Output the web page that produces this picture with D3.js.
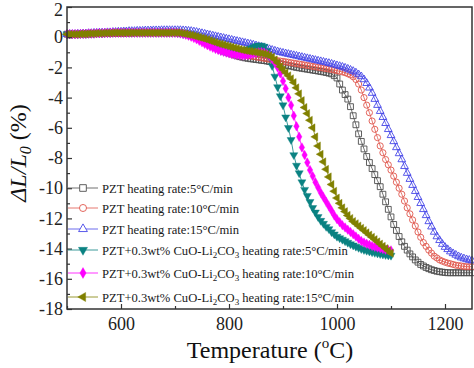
<!DOCTYPE html>
<html>
<head>
<meta charset="utf-8">
<script src="https://cdn.jsdelivr.net/npm/d3@7"></script>
<style>
  body { margin: 0; background: #fff; }
  svg { display: block; }
  svg text { font-family: "Liberation Serif", "Times New Roman", serif; }
</style>
</head>
<body>
<div id="chart"></div>
<script>
/* DATA */
// readings every 5 °C: PZT 500..1250, doped 500..1100
const tempsPZT = d3.range(500, 1251, 5);
const tempsDoped = d3.range(500, 1101, 5);

const pzt5 = [
  0.2,0.2,0.2,0.2,0.2,0.22,0.22,0.22,0.22,0.22,
  0.25,0.25,0.25,0.25,0.25,0.25,0.25,0.25,0.25,0.25,
  0.25,0.25,0.28,0.28,0.28,0.3,0.3,0.3,0.3,0.3,
  0.3,0.3,0.3,0.3,0.3,0.3,0.3,0.3,0.3,0.3,
  0.3,0.3,0.28,0.25,0.22,0.18,0.12,0.05,-0.02,-0.1,
  -0.18,-0.27,-0.36,-0.45,-0.55,-0.64,-0.73,-0.82,-0.9,-0.98,
  -1.05,-1.12,-1.18,-1.24,-1.29,-1.33,-1.37,-1.4,-1.43,-1.45,
  -1.48,-1.5,-1.53,-1.55,-1.58,-1.61,-1.64,-1.68,-1.72,-1.76,
  -1.8,-1.84,-1.88,-1.92,-1.96,-2.0,-2.03,-2.06,-2.09,-2.12,
  -2.15,-2.18,-2.21,-2.24,-2.27,-2.3,-2.34,-2.38,-2.43,-2.55,
  -2.7,-3.1,-3.5,-3.8,-4.1,-4.6,-5.2,-5.8,-6.4,-6.9,
  -7.4,-7.9,-8.3,-8.7,-9.1,-9.5,-9.9,-10.4,-10.9,-11.4,
  -11.9,-12.4,-12.8,-13.2,-13.55,-13.85,-14.1,-14.35,-14.55,-14.75,
  -14.9,-15.05,-15.15,-15.25,-15.33,-15.4,-15.45,-15.5,-15.53,-15.56,
  -15.58,-15.6,-15.6,-15.6,-15.6,-15.6,-15.6,-15.6,-15.6,-15.6,
  -15.6];

const pzt10 = [
  0.2,0.2,0.2,0.2,0.2,0.22,0.22,0.22,0.22,0.22,
  0.25,0.25,0.25,0.25,0.25,0.25,0.25,0.25,0.25,0.25,
  0.25,0.25,0.28,0.28,0.28,0.3,0.3,0.3,0.3,0.3,
  0.3,0.3,0.3,0.3,0.3,0.3,0.3,0.3,0.3,0.3,
  0.3,0.3,0.28,0.26,0.23,0.2,0.15,0.1,0.04,-0.03,
  -0.1,-0.17,-0.25,-0.33,-0.41,-0.49,-0.57,-0.65,-0.72,-0.79,
  -0.86,-0.92,-0.98,-1.03,-1.08,-1.12,-1.16,-1.2,-1.24,-1.28,
  -1.31,-1.34,-1.37,-1.4,-1.43,-1.46,-1.49,-1.52,-1.55,-1.58,
  -1.6,-1.63,-1.66,-1.69,-1.72,-1.75,-1.78,-1.81,-1.84,-1.87,
  -1.9,-1.93,-1.96,-1.99,-2.02,-2.05,-2.08,-2.11,-2.14,-2.18,
  -2.22,-2.26,-2.3,-2.35,-2.42,-2.5,-2.62,-2.8,-3.1,-3.5,
  -4.0,-4.5,-5.0,-5.55,-6.1,-6.65,-7.2,-7.65,-8.1,-8.45,
  -8.8,-9.2,-9.6,-10.0,-10.4,-10.85,-11.3,-11.7,-12.1,-12.5,
  -12.9,-13.25,-13.6,-13.85,-14.1,-14.3,-14.5,-14.62,-14.75,-14.83,
  -14.9,-14.96,-15.0,-15.05,-15.1,-15.12,-15.15,-15.18,-15.2,-15.2,
  -15.2];

const pzt15 = [
  0.2,0.2,0.2,0.2,0.22,0.22,0.24,0.24,0.26,0.26,
  0.28,0.28,0.3,0.3,0.3,0.32,0.32,0.34,0.34,0.36,
  0.36,0.38,0.38,0.4,0.4,0.4,0.42,0.42,0.42,0.44,
  0.44,0.44,0.45,0.45,0.45,0.46,0.46,0.46,0.46,0.46,
  0.46,0.46,0.46,0.45,0.44,0.42,0.4,0.37,0.34,0.3,
  0.26,0.22,0.18,0.14,0.1,0.06,0.02,-0.02,-0.06,-0.1,
  -0.14,-0.18,-0.22,-0.26,-0.3,-0.34,-0.38,-0.42,-0.46,-0.5,
  -0.55,-0.6,-0.65,-0.7,-0.75,-0.8,-0.85,-0.9,-0.95,-1.0,
  -1.04,-1.08,-1.12,-1.16,-1.2,-1.24,-1.28,-1.32,-1.36,-1.4,
  -1.44,-1.48,-1.52,-1.56,-1.6,-1.64,-1.68,-1.72,-1.77,-1.82,
  -1.87,-1.92,-1.97,-2.03,-2.1,-2.17,-2.25,-2.35,-2.47,-2.6,
  -2.8,-3.05,-3.35,-3.7,-4.1,-4.5,-4.9,-5.3,-5.7,-6.1,
  -6.5,-6.9,-7.3,-7.7,-8.1,-8.55,-9.0,-9.4,-9.8,-10.2,
  -10.6,-11.0,-11.4,-11.8,-12.2,-12.55,-12.9,-13.2,-13.45,-13.7,
  -13.9,-14.05,-14.2,-14.32,-14.42,-14.52,-14.6,-14.66,-14.72,-14.76,
  -14.8];

const doped5 = [
  0.2,0.2,0.2,0.2,0.2,0.22,0.22,0.22,0.24,0.24,
  0.24,0.26,0.26,0.26,0.28,0.28,0.28,0.3,0.3,0.3,
  0.3,0.3,0.3,0.3,0.3,0.3,0.3,0.3,0.3,0.3,
  0.3,0.3,0.3,0.3,0.3,0.3,0.3,0.3,0.3,0.3,
  0.3,0.28,0.25,0.22,0.2,0.15,0.1,0.05,0.0,-0.08,
  -0.17,-0.26,-0.35,-0.46,-0.57,-0.68,-0.8,-0.88,-0.94,-0.98,
  -1.0,-1.0,-0.99,-0.97,-0.95,-0.91,-0.86,-0.8,-0.73,-0.65,
  -0.58,-0.54,-0.55,-0.62,-0.9,-1.3,-1.9,-2.6,-3.3,-3.9,
  -4.5,-5.3,-6.0,-6.8,-7.8,-8.5,-9.0,-9.6,-10.1,-10.5,
  -10.9,-11.3,-11.6,-11.9,-12.15,-12.35,-12.55,-12.7,-12.9,-13.05,
  -13.2,-13.3,-13.4,-13.5,-13.6,-13.7,-13.78,-13.86,-13.94,-14.02,
  -14.08,-14.13,-14.18,-14.23,-14.27,-14.31,-14.35,-14.38,-14.41,-14.44,
  -14.46];

const doped10 = [
  0.2,0.2,0.2,0.2,0.2,0.22,0.22,0.22,0.24,0.24,
  0.24,0.26,0.26,0.26,0.28,0.28,0.28,0.3,0.3,0.3,
  0.3,0.3,0.3,0.3,0.3,0.3,0.3,0.3,0.3,0.3,
  0.3,0.3,0.3,0.3,0.3,0.3,0.3,0.3,0.3,0.3,
  0.3,0.28,0.25,0.21,0.16,0.1,0.03,-0.05,-0.14,-0.24,
  -0.34,-0.44,-0.53,-0.62,-0.7,-0.78,-0.85,-0.91,-0.97,-1.02,
  -1.07,-1.11,-1.15,-1.18,-1.2,-1.21,-1.2,-1.18,-1.14,-1.09,
  -1.04,-1.0,-0.99,-1.02,-1.1,-1.25,-1.45,-1.7,-2.0,-2.4,
  -2.9,-3.4,-4.0,-4.5,-5.2,-5.9,-6.6,-7.3,-7.8,-8.3,
  -8.8,-9.2,-9.6,-9.95,-10.3,-10.6,-10.9,-11.2,-11.5,-11.8,
  -12.05,-12.25,-12.45,-12.6,-12.75,-12.9,-13.05,-13.2,-13.35,-13.5,
  -13.6,-13.68,-13.75,-13.82,-13.88,-13.93,-13.98,-14.03,-14.07,-14.1,
  -14.12];

const doped15 = [
  0.2,0.2,0.2,0.2,0.2,0.22,0.22,0.22,0.24,0.24,
  0.24,0.26,0.26,0.26,0.28,0.28,0.28,0.3,0.3,0.3,
  0.3,0.3,0.3,0.3,0.3,0.3,0.3,0.3,0.3,0.3,
  0.3,0.3,0.3,0.3,0.3,0.3,0.3,0.3,0.3,0.3,
  0.3,0.3,0.28,0.25,0.22,0.18,0.14,0.1,0.05,0.0,
  -0.05,-0.1,-0.16,-0.22,-0.28,-0.34,-0.4,-0.45,-0.5,-0.55,
  -0.6,-0.65,-0.7,-0.75,-0.8,-0.84,-0.88,-0.91,-0.94,-0.97,
  -1.0,-1.03,-1.06,-1.1,-1.15,-1.22,-1.32,-1.5,-1.7,-1.95,
  -2.15,-2.35,-2.55,-2.75,-3.0,-3.35,-3.75,-4.2,-4.65,-5.05,
  -5.5,-6.0,-6.6,-7.2,-7.75,-8.25,-8.75,-9.25,-9.75,-10.2,
  -10.65,-11.0,-11.3,-11.55,-11.8,-12.0,-12.2,-12.35,-12.5,-12.65,
  -12.8,-12.95,-13.1,-13.25,-13.4,-13.55,-13.7,-13.85,-14.0,-14.15,
  -14.3];

const rates = ["5", "10", "15"];
const xTicks = [600, 800, 1000, 1200];
const xMinorTicks = [500, 700, 900, 1100];
const yTicks = [2, 0, -2, -4, -6, -8, -10, -12, -14, -16, -18];
const yMinorTicks = [1, -1, -3, -5, -7, -9, -11, -13, -15, -17];

/* SIZES */
const width = 474, height = 368;
const margin = { top: 7, right: 2, bottom: 59, left: 67 };
const serif = "'Liberation Serif', 'Times New Roman', serif";

const series = [
  { temps: tempsPZT, vals: pzt5, color: "#4d4d4d", sym: d3.symbolSquare, size: 34, rot: 0, fill: false, doped: false, rate: rates[0] },
  { temps: tempsPZT, vals: pzt10, color: "#e0564c", sym: d3.symbolCircle, size: 30, rot: 0, fill: false, doped: false, rate: rates[1] },
  { temps: tempsPZT, vals: pzt15, color: "#4646e8", sym: d3.symbolTriangle, size: 26, rot: 0, fill: false, doped: false, rate: rates[2] },
  { temps: tempsDoped, vals: doped5, color: "#0a8282", sym: d3.symbolTriangle, size: 28, rot: 180, fill: true, doped: true, rate: rates[0] },
  { temps: tempsDoped, vals: doped10, color: "#ff00ff", sym: d3.symbolDiamond, size: 26, rot: 0, fill: true, doped: true, rate: rates[1] },
  { temps: tempsDoped, vals: doped15, color: "#808000", sym: d3.symbolTriangle, size: 28, rot: -90, fill: true, doped: true, rate: rates[2] }
];

const svg = d3.select("#chart").append("svg")
  .attr("width", width)
  .attr("height", height);

const x = d3.scaleLinear().domain([500, 1250]).range([margin.left, width - margin.right]);
const y = d3.scaleLinear().domain([-18, 2]).range([height - margin.bottom, margin.top]);

// series
const line = d3.line().x(d => x(d[0])).y(d => y(d[1]));
const plot = svg.append("g");

series.forEach(s => {
  const pts = s.temps.map((t, i) => [t, s.vals[i]]);
  plot.append("path")
    .datum(pts)
    .attr("d", line)
    .attr("fill", "none")
    .attr("stroke", s.color)
    .attr("stroke-width", 0.8);
  plot.selectAll(null)
    .data(pts)
    .join("path")
    .attr("transform", d => `translate(${x(d[0])},${y(d[1])}) rotate(${s.rot})`)
    .attr("d", d3.symbol().type(s.sym).size(s.size))
    .attr("fill", s.fill ? s.color : "none")
    .attr("stroke", s.color)
    .attr("stroke-width", s.fill ? 0.4 : 0.9);
});

// axes (ticks point inward)
const axisColor = "#333";
const yAxis = svg.append("g")
  .attr("transform", `translate(${margin.left},0)`)
  .call(d3.axisLeft(y).tickValues(yTicks).tickSizeInner(-5).tickSizeOuter(0).tickPadding(4).tickFormat(d => String(d)));
const yMinor = svg.append("g")
  .attr("transform", `translate(${margin.left},0)`)
  .call(d3.axisLeft(y).tickValues(yMinorTicks).tickSizeInner(-3).tickSizeOuter(0).tickFormat(""));

const xAxis = svg.append("g")
  .attr("transform", `translate(0,${height - margin.bottom})`)
  .call(d3.axisBottom(x).tickValues(xTicks).tickSizeInner(-5).tickSizeOuter(0).tickPadding(8).tickFormat(d => String(d)));
const xMinor = svg.append("g")
  .attr("transform", `translate(0,${height - margin.bottom})`)
  .call(d3.axisBottom(x).tickValues(xMinorTicks).tickSizeInner(-3).tickSizeOuter(0).tickFormat(""));

[yAxis, yMinor, xAxis, xMinor].forEach(g => {
  g.attr("font-family", null).attr("font-size", null);
  g.select(".domain").remove();
  g.selectAll("line").attr("stroke", axisColor).attr("stroke-width", 1.2);
  g.selectAll("text").attr("fill", "#222").style("font-size", "18px").style("font-family", serif);
});
// the top label sits a little below its tick, as in the original
yAxis.selectAll(".tick").filter(d => d === 2).select("text").attr("dy", "0.45em");

// frame
svg.append("rect")
  .attr("x", margin.left)
  .attr("y", margin.top)
  .attr("width", x(1250) - margin.left)
  .attr("height", y(-18) - margin.top)
  .attr("fill", "none")
  .attr("stroke", axisColor)
  .attr("stroke-width", 1.5);

// axis titles
const xt = svg.append("text")
  .attr("x", 270)
  .attr("y", 358)
  .attr("text-anchor", "middle")
  .style("font-size", "24px")
  .attr("fill", "#111");
xt.append("tspan").text("Temperature (");
xt.append("tspan").style("font-size", "15px").attr("dy", -10).text("o");
xt.append("tspan").attr("dy", 10).text("C)");

const yt = svg.append("text")
  .attr("transform", "translate(26,153) rotate(-90)")
  .attr("text-anchor", "middle")
  .style("font-size", "24px")
  .attr("fill", "#111");
yt.append("tspan").attr("font-style", "italic").text("ΔL/L");
yt.append("tspan").attr("font-style", "italic").style("font-size", "16px").attr("dy", 5).text("0");
yt.append("tspan").attr("dy", -5).text(" (%)");

// legend
const legendY = [188, 208, 229, 250, 273, 297];
const legend = svg.append("g");
series.forEach((s, i) => {
  const g = legend.append("g").attr("transform", `translate(0,${legendY[i]})`);
  g.append("line").attr("x1", 68).attr("x2", 98).attr("stroke", s.color).attr("stroke-width", 0.8);
  g.append("path")
    .attr("transform", `translate(83,0) rotate(${s.rot})`)
    .attr("d", d3.symbol().type(s.sym).size(s.size * 1.3))
    .attr("fill", s.fill ? s.color : "#fff")
    .attr("stroke", s.color)
    .attr("stroke-width", s.fill ? 0.4 : 0.9);
  const t = g.append("text")
    .attr("x", 102)
    .attr("y", 4.5)
    .style("font-size", "12.6px")
    .attr("fill", "#1a1a1a");
  if (!s.doped) {
    t.text(`PZT heating rate:${s.rate}°C/min`);
  } else {
    t.append("tspan").text("PZT+0.3wt% CuO-Li");
    t.append("tspan").style("font-size", "9px").attr("dy", 3).text("2");
    t.append("tspan").attr("dy", -3).text("CO");
    t.append("tspan").style("font-size", "9px").attr("dy", 3).text("3");
    t.append("tspan").attr("dy", -3).text(` heating rate:${s.rate}°C/min`);
  }
});
</script>
</body>
</html>
